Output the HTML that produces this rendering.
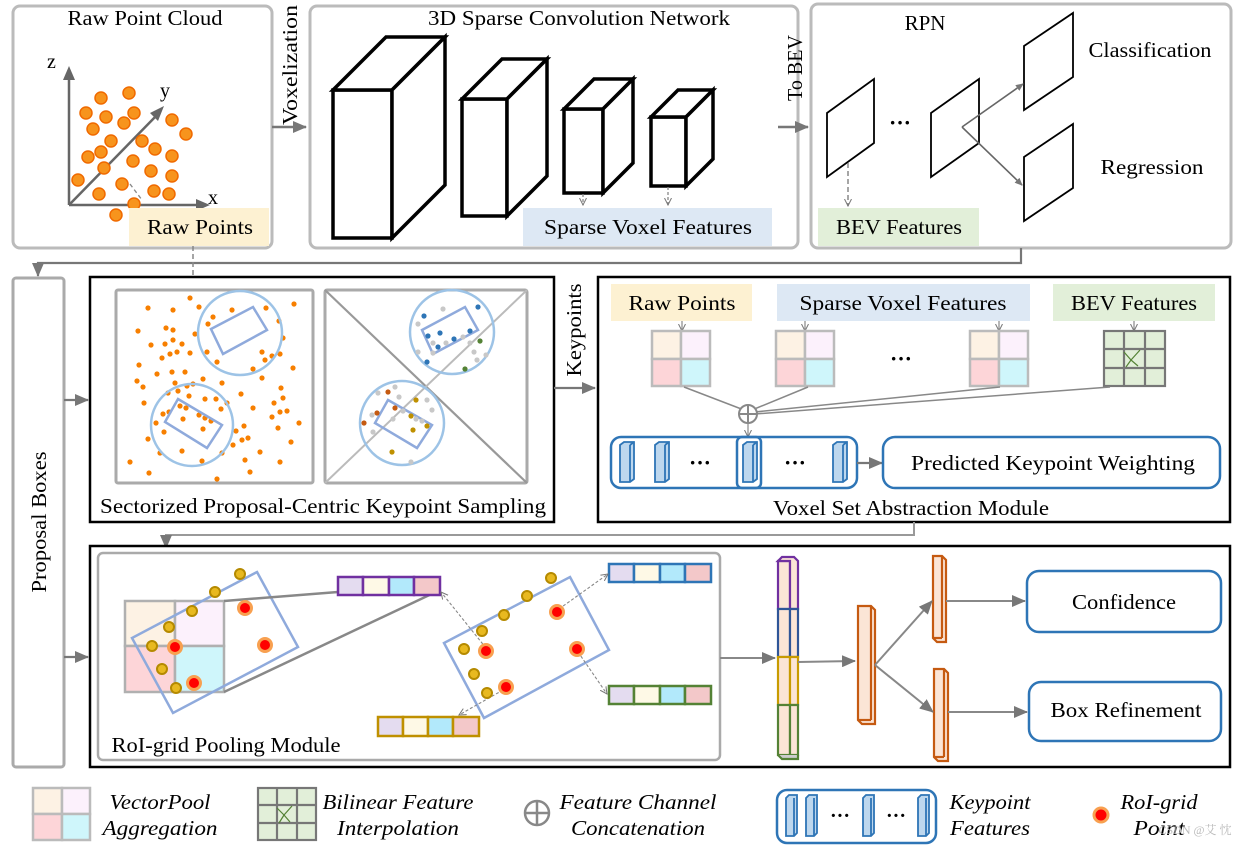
<!DOCTYPE html>
<html><head><meta charset="utf-8"><style>
html,body{margin:0;padding:0;background:#fff;}
svg{display:block;}
text{font-family:"Liberation Serif","Noto Serif CJK SC",serif;fill:#000;}
.it{font-style:italic;}
</style></head><body>
<svg width="1251" height="846" viewBox="0 0 1251 846" xmlns="http://www.w3.org/2000/svg">
<defs>
<marker id="ah" markerWidth="8" markerHeight="8" refX="7" refY="4" orient="auto" markerUnits="userSpaceOnUse"><path d="M0,0.5 L8,4 L0,7.5 Z" fill="#777"/></marker>
<marker id="ahb" markerWidth="14" markerHeight="12" refX="13" refY="6" orient="auto" markerUnits="userSpaceOnUse"><path d="M0,0 L14,6 L0,12 Z" fill="#777"/></marker>
<marker id="ahs" markerWidth="8" markerHeight="8" refX="7" refY="4" orient="auto" markerUnits="userSpaceOnUse"><path d="M0,0.5 L7,4 L0,7.5" fill="none" stroke="#777" stroke-width="1"/></marker>
</defs>

<!-- ===== Top row ===== -->
<rect x="13" y="6" width="259" height="242" rx="7" fill="#fff" stroke="#bbb" stroke-width="3"/>
<text x="145" y="25" font-size="21" text-anchor="middle" textLength="155" lengthAdjust="spacingAndGlyphs">Raw Point Cloud</text>
<!-- axes -->
<g stroke="#666" stroke-width="2.5" fill="none">
<line x1="69" y1="205" x2="69" y2="76"/>
<line x1="69" y1="205" x2="200" y2="205"/>
<line x1="69" y1="205" x2="158" y2="114"/>
</g>
<path d="M69,66 L63,80 L75,80Z" fill="#666"/>
<path d="M210,205 L196,199 L196,211Z" fill="#666"/>
<path d="M164,106 L150,113 L158,121Z" fill="#666"/>
<text x="47" y="68" font-size="20">z</text>
<text x="160" y="97" font-size="20">y</text>
<text x="208" y="204" font-size="20">x</text>
<g fill="#f7941d" stroke="#f06a00" stroke-width="1.5">
<circle cx="101" cy="98" r="6"/><circle cx="129" cy="93" r="6"/><circle cx="86" cy="113" r="6"/><circle cx="106" cy="117" r="6"/><circle cx="134" cy="113" r="6"/><circle cx="124" cy="123" r="6"/><circle cx="172" cy="120" r="6"/><circle cx="93" cy="129" r="6"/><circle cx="186" cy="134" r="6"/><circle cx="111" cy="141" r="6"/><circle cx="142" cy="141" r="6"/><circle cx="155" cy="149" r="6"/><circle cx="88" cy="157" r="6"/><circle cx="101" cy="152" r="6"/><circle cx="172" cy="156" r="6"/><circle cx="133" cy="161" r="6"/><circle cx="104" cy="168" r="6"/><circle cx="151" cy="171" r="6"/><circle cx="172" cy="176" r="6"/><circle cx="78" cy="180" r="6"/><circle cx="122" cy="184" r="6"/><circle cx="154" cy="191" r="6"/><circle cx="99" cy="194" r="6"/><circle cx="169" cy="194" r="6"/><circle cx="134" cy="204" r="6"/><circle cx="116" cy="215" r="6"/>
</g>
<line x1="130" y1="184" x2="142" y2="200" stroke="#888" stroke-width="1.3" stroke-dasharray="4,3"/>
<rect x="129" y="208" width="140" height="38" fill="#fdf1d2"/>
<text x="200" y="234" font-size="21" text-anchor="middle" textLength="106" lengthAdjust="spacingAndGlyphs">Raw Points</text>

<!-- voxelization arrow -->
<line x1="272" y1="127" x2="306" y2="127" stroke="#777" stroke-width="2.5" marker-end="url(#ahb)"/>
<text transform="translate(297,65) rotate(-90)" font-size="21" text-anchor="middle" textLength="120" lengthAdjust="spacingAndGlyphs">Voxelization</text>

<rect x="310" y="6" width="488" height="242" rx="7" fill="#fff" stroke="#bbb" stroke-width="3"/>
<text x="579" y="25" font-size="21" text-anchor="middle" textLength="302" lengthAdjust="spacingAndGlyphs">3D Sparse Convolution Network</text>
<g fill="#fff" stroke="#000" stroke-width="3.5" stroke-linejoin="miter">
<rect x="333" y="90" width="59" height="148"/>
<path d="M333,90 L386,37 L445,37 L392,90Z"/><path d="M392,90 L445,37 L445,185 L392,238Z"/>
<rect x="462" y="99" width="45" height="117"/>
<path d="M462,99 L502,59 L547,59 L507,99Z"/><path d="M507,99 L547,59 L547,176 L507,216Z"/>
<rect x="564" y="109" width="39" height="84"/>
<path d="M564,109 L594,79 L633,79 L603,109Z"/><path d="M603,109 L633,79 L633,163 L603,193Z"/>
<rect x="651" y="117" width="35" height="69"/>
<path d="M651,117 L678,90 L713,90 L686,117Z"/><path d="M686,117 L713,90 L713,159 L686,186Z"/>
</g>
<line x1="583" y1="194" x2="583" y2="205" stroke="#888" stroke-width="1.3" stroke-dasharray="3,2" marker-end="url(#ahs)"/>
<line x1="668" y1="187" x2="668" y2="205" stroke="#888" stroke-width="1.3" stroke-dasharray="3,2" marker-end="url(#ahs)"/>
<rect x="523" y="208" width="249" height="38" fill="#dde8f4"/>
<text x="648" y="234" font-size="21" text-anchor="middle" textLength="208" lengthAdjust="spacingAndGlyphs">Sparse Voxel Features</text>

<!-- to BEV -->
<line x1="778" y1="127" x2="808" y2="127" stroke="#777" stroke-width="2.5" marker-end="url(#ahb)"/>
<text transform="translate(802,68) rotate(-90)" font-size="21" text-anchor="middle" textLength="66" lengthAdjust="spacingAndGlyphs">To BEV</text>

<rect x="811" y="4" width="420" height="244" rx="7" fill="#fff" stroke="#bbb" stroke-width="3"/>
<text x="925" y="30" font-size="21" text-anchor="middle">RPN</text>
<g fill="#fff" stroke="#000" stroke-width="1.8">
<path d="M827,113 L874,79 L874,143 L827,177Z"/>
<path d="M931,113 L979,79 L979,143 L931,177Z"/>
<path d="M1024,46 L1073,13 L1073,77 L1024,110Z"/>
<path d="M1024,157 L1073,124 L1073,188 L1024,221Z"/>
</g>
<text x="900" y="130" font-size="22" text-anchor="middle" font-weight="bold">···</text>
<line x1="962" y1="127" x2="1023" y2="84" stroke="#666" stroke-width="1.6" marker-end="url(#ah)"/>
<line x1="962" y1="127" x2="1022" y2="185" stroke="#666" stroke-width="1.6" marker-end="url(#ah)"/>
<text x="1150" y="57" font-size="21" text-anchor="middle" textLength="123" lengthAdjust="spacingAndGlyphs">Classification</text>
<text x="1152" y="174" font-size="21" text-anchor="middle" textLength="103" lengthAdjust="spacingAndGlyphs">Regression</text>
<line x1="848" y1="163" x2="848" y2="206" stroke="#888" stroke-width="1.5" stroke-dasharray="5,3" marker-end="url(#ahs)"/>
<rect x="818" y="208" width="161" height="38" fill="#e2efd9"/>
<text x="899" y="234" font-size="21" text-anchor="middle" textLength="126" lengthAdjust="spacingAndGlyphs">BEV Features</text>

<!-- connector from RPN to proposal boxes -->
<polyline points="1021,248 1021,263 38,263 38,276" fill="none" stroke="#777" stroke-width="2.2" marker-end="url(#ahb)"/>
<line x1="193" y1="246" x2="193" y2="290" stroke="#888" stroke-width="1.5" stroke-dasharray="5,3" marker-end="url(#ahs)"/>

<!-- Proposal boxes -->
<rect x="13" y="278" width="51" height="489" rx="3" fill="#fff" stroke="#aaa" stroke-width="3"/>
<text transform="translate(46,522) rotate(-90)" font-size="21" text-anchor="middle" textLength="141" lengthAdjust="spacingAndGlyphs">Proposal Boxes</text>
<line x1="64" y1="400" x2="88" y2="400" stroke="#777" stroke-width="2.2" marker-end="url(#ahb)"/>
<line x1="64" y1="657" x2="88" y2="657" stroke="#777" stroke-width="2.2" marker-end="url(#ahb)"/>

<!-- Sampling box -->
<rect x="90" y="277" width="464" height="245" fill="#fff" stroke="#000" stroke-width="2.5"/>
<rect x="116" y="290" width="197" height="193" rx="2" fill="#fff" stroke="#aaa" stroke-width="3"/>
<rect x="325" y="290" width="202" height="193" rx="2" fill="#fff" stroke="#aaa" stroke-width="3"/>
<line x1="325" y1="290" x2="527" y2="483" stroke="#999" stroke-width="2.2"/>
<line x1="527" y1="290" x2="325" y2="483" stroke="#bbb" stroke-width="2"/>
<g fill="#f77f00">
<circle cx="190" cy="298" r="2.6"/><circle cx="148" cy="308" r="2.6"/><circle cx="173" cy="310" r="2.6"/><circle cx="199" cy="307" r="2.6"/><circle cx="232" cy="310" r="2.6"/><circle cx="266" cy="308" r="2.6"/><circle cx="294" cy="304" r="2.6"/><circle cx="138" cy="331" r="2.6"/><circle cx="166" cy="328" r="2.6"/><circle cx="173" cy="330" r="2.6"/><circle cx="213" cy="317" r="2.6"/><circle cx="208" cy="324" r="2.6"/><circle cx="279" cy="321" r="2.6"/><circle cx="283" cy="338" r="2.6"/><circle cx="151" cy="345" r="2.6"/><circle cx="165" cy="344" r="2.6"/><circle cx="173" cy="340" r="2.6"/><circle cx="182" cy="344" r="2.6"/><circle cx="195" cy="334" r="2.6"/><circle cx="170" cy="354" r="2.6"/><circle cx="177" cy="352" r="2.6"/><circle cx="190" cy="353" r="2.6"/><circle cx="162" cy="358" r="2.6"/><circle cx="207" cy="352" r="2.6"/><circle cx="217" cy="362" r="2.6"/><circle cx="262" cy="352" r="2.6"/><circle cx="272" cy="356" r="2.6"/><circle cx="280" cy="354" r="2.6"/><circle cx="265" cy="360" r="2.6"/><circle cx="139" cy="365" r="2.6"/><circle cx="253" cy="369" r="2.6"/><circle cx="293" cy="368" r="2.6"/><circle cx="157" cy="374" r="2.6"/><circle cx="172" cy="372" r="2.6"/><circle cx="185" cy="372" r="2.6"/><circle cx="203" cy="379" r="2.6"/><circle cx="262" cy="378" r="2.6"/><circle cx="137" cy="381" r="2.6"/><circle cx="143" cy="387" r="2.6"/><circle cx="175" cy="383" r="2.6"/><circle cx="187" cy="386" r="2.6"/><circle cx="193" cy="384" r="2.6"/><circle cx="222" cy="383" r="2.6"/><circle cx="281" cy="388" r="2.6"/><circle cx="168" cy="393" r="2.6"/><circle cx="178" cy="391" r="2.6"/><circle cx="189" cy="396" r="2.6"/><circle cx="241" cy="394" r="2.6"/><circle cx="205" cy="399" r="2.6"/><circle cx="216" cy="399" r="2.6"/><circle cx="227" cy="403" r="2.6"/><circle cx="144" cy="403" r="2.6"/><circle cx="274" cy="403" r="2.6"/><circle cx="283" cy="398" r="2.6"/><circle cx="180" cy="406" r="2.6"/><circle cx="186" cy="408" r="2.6"/><circle cx="221" cy="409" r="2.6"/><circle cx="253" cy="408" r="2.6"/><circle cx="280" cy="412" r="2.6"/><circle cx="287" cy="411" r="2.6"/><circle cx="272" cy="417" r="2.6"/><circle cx="163" cy="414" r="2.6"/><circle cx="169" cy="412" r="2.6"/><circle cx="199" cy="415" r="2.6"/><circle cx="205" cy="418" r="2.6"/><circle cx="211" cy="421" r="2.6"/><circle cx="183" cy="419" r="2.6"/><circle cx="299" cy="423" r="2.6"/><circle cx="156" cy="423" r="2.6"/><circle cx="244" cy="426" r="2.6"/><circle cx="278" cy="428" r="2.6"/><circle cx="164" cy="432" r="2.6"/><circle cx="203" cy="429" r="2.6"/><circle cx="236" cy="431" r="2.6"/><circle cx="242" cy="440" r="2.6"/><circle cx="248" cy="438" r="2.6"/><circle cx="148" cy="439" r="2.6"/><circle cx="291" cy="442" r="2.6"/><circle cx="233" cy="445" r="2.6"/><circle cx="160" cy="453" r="2.6"/><circle cx="182" cy="451" r="2.6"/><circle cx="260" cy="452" r="2.6"/><circle cx="222" cy="453" r="2.6"/><circle cx="202" cy="461" r="2.6"/><circle cx="245" cy="460" r="2.6"/><circle cx="280" cy="462" r="2.6"/><circle cx="130" cy="462" r="2.6"/><circle cx="149" cy="473" r="2.6"/><circle cx="250" cy="472" r="2.6"/><circle cx="217" cy="479" r="2.6"/>
</g>
<g fill="none" stroke="#9dc3e6" stroke-width="2.5">
<circle cx="240" cy="333" r="42"/><circle cx="192" cy="425" r="41"/>
<circle cx="452" cy="332" r="42"/><circle cx="402" cy="423" r="42"/>
</g>
<g fill="none" stroke="#8faadc" stroke-width="2.5">
<path d="M211,329 L253,307 L267,330 L223,354Z"/>
<path d="M178,399 L222,425 L207,448 L165,422Z"/>
<path d="M422,330 L465,307 L478,330 L433,354Z"/>
<path d="M388,400 L432,425 L417,448 L375,423Z"/>
</g>
<g fill="#c8c8c8">
<circle cx="443" cy="309" r="2.6"/><circle cx="418" cy="324" r="2.6"/><circle cx="433" cy="343" r="2.6"/><circle cx="446" cy="343" r="2.6"/><circle cx="463" cy="337" r="2.6"/><circle cx="470" cy="343" r="2.6"/><circle cx="433" cy="353" r="2.6"/><circle cx="418" cy="352" r="2.6"/><circle cx="474" cy="352" r="2.6"/><circle cx="477" cy="360" r="2.6"/><circle cx="486" cy="355" r="2.6"/><circle cx="395" cy="387" r="2.6"/><circle cx="399" cy="397" r="2.6"/><circle cx="427" cy="400" r="2.6"/><circle cx="378" cy="393" r="2.6"/><circle cx="372" cy="415" r="2.6"/><circle cx="403" cy="411" r="2.6"/><circle cx="432" cy="410" r="2.6"/><circle cx="416" cy="419" r="2.6"/><circle cx="422" cy="421" r="2.6"/><circle cx="373" cy="432" r="2.6"/><circle cx="393" cy="419" r="2.6"/><circle cx="411" cy="462" r="2.6"/>
</g>
<g fill="#2e75b6"><circle cx="478" cy="307" r="2.6"/><circle cx="424" cy="316" r="2.6"/><circle cx="428" cy="336" r="2.6"/><circle cx="440" cy="333" r="2.6"/><circle cx="454" cy="339" r="2.6"/><circle cx="470" cy="331" r="2.6"/><circle cx="438" cy="347" r="2.6"/><circle cx="427" cy="362" r="2.6"/></g>
<g fill="#548235"><circle cx="480" cy="341" r="2.6"/><circle cx="465" cy="369" r="2.6"/></g>
<g fill="#c55a11"><circle cx="388" cy="392" r="2.6"/><circle cx="377" cy="413" r="2.6"/><circle cx="395" cy="408" r="2.6"/><circle cx="364" cy="423" r="2.6"/></g>
<g fill="#bf9000"><circle cx="416" cy="400" r="2.6"/><circle cx="411" cy="416" r="2.6"/><circle cx="413" cy="430" r="2.6"/><circle cx="392" cy="452" r="2.6"/><circle cx="427" cy="426" r="2.6"/></g>
<text x="323" y="513" font-size="21" text-anchor="middle" textLength="446" lengthAdjust="spacingAndGlyphs">Sectorized Proposal-Centric Keypoint Sampling</text>

<!-- keypoints arrow -->
<line x1="554" y1="388" x2="595" y2="388" stroke="#777" stroke-width="2.2" marker-end="url(#ahb)"/>
<text transform="translate(581,330) rotate(-90)" font-size="21" text-anchor="middle" textLength="93" lengthAdjust="spacingAndGlyphs">Keypoints</text>

<!-- VSA box -->
<rect x="598" y="277" width="632" height="245" fill="#fff" stroke="#000" stroke-width="2.5"/>
<rect x="611" y="284" width="141" height="37" fill="#fdf1d2"/>
<text x="682" y="310" font-size="21" text-anchor="middle" textLength="107" lengthAdjust="spacingAndGlyphs">Raw Points</text>
<rect x="777" y="284" width="253" height="37" fill="#dde8f4"/>
<text x="903" y="310" font-size="21" text-anchor="middle" textLength="207" lengthAdjust="spacingAndGlyphs">Sparse Voxel Features</text>
<rect x="1053" y="284" width="162" height="37" fill="#e2efd9"/>
<text x="1134" y="310" font-size="21" text-anchor="middle" textLength="126" lengthAdjust="spacingAndGlyphs">BEV Features</text>
<g stroke="#888" stroke-width="1.2" fill="none">
<line x1="682" y1="321" x2="682" y2="331" marker-end="url(#ahs)"/>
<line x1="805" y1="321" x2="805" y2="331" marker-end="url(#ahs)"/>
<line x1="999" y1="321" x2="999" y2="331" marker-end="url(#ahs)"/>
<line x1="1134" y1="321" x2="1134" y2="331" marker-end="url(#ahs)"/>
</g>
<!-- vectorpool grids -->
<g stroke="#bbb" stroke-width="2.5">
<rect x="652" y="331" width="29" height="28" fill="#fdf2e4"/><rect x="681" y="331" width="29" height="28" fill="#fcf1fc"/><rect x="652" y="359" width="29" height="27" fill="#fdd5d8"/><rect x="681" y="359" width="29" height="27" fill="#cff6fb"/>
<rect x="776" y="331" width="29" height="28" fill="#fdf2e4"/><rect x="805" y="331" width="29" height="28" fill="#fcf1fc"/><rect x="776" y="359" width="29" height="27" fill="#fdd5d8"/><rect x="805" y="359" width="29" height="27" fill="#cff6fb"/>
<rect x="970" y="331" width="29" height="28" fill="#fdf2e4"/><rect x="999" y="331" width="29" height="28" fill="#fcf1fc"/><rect x="970" y="359" width="29" height="27" fill="#fdd5d8"/><rect x="999" y="359" width="29" height="27" fill="#cff6fb"/>
</g>
<text x="901" y="366" font-size="22" text-anchor="middle" font-weight="bold">···</text>
<g stroke="#777" stroke-width="2.2" fill="#e2efd9">
<rect x="1104" y="331" width="61" height="55"/>
<line x1="1124" y1="331" x2="1124" y2="386"/><line x1="1145" y1="331" x2="1145" y2="386"/>
<line x1="1104" y1="349" x2="1165" y2="349"/><line x1="1104" y1="368" x2="1165" y2="368"/>
</g>
<g stroke="#548235" stroke-width="1.2"><line x1="1140" y1="350" x2="1131" y2="360"/><line x1="1124" y1="352" x2="1131" y2="360"/><line x1="1138" y1="366" x2="1131" y2="360"/><line x1="1126" y1="367" x2="1131" y2="360"/></g>
<g stroke="#888" stroke-width="1.5">
<line x1="684" y1="387" x2="744" y2="410"/><line x1="808" y1="387" x2="752" y2="410"/>
<line x1="1000" y1="387" x2="755" y2="412"/><line x1="1110" y1="387" x2="755" y2="414"/>
</g>
<circle cx="748" cy="414" r="9" fill="#fff" stroke="#888" stroke-width="2"/>
<line x1="739" y1="414" x2="757" y2="414" stroke="#888" stroke-width="2"/><line x1="748" y1="405" x2="748" y2="423" stroke="#888" stroke-width="2"/>
<line x1="748" y1="423" x2="748" y2="437" stroke="#888" stroke-width="1.2" marker-end="url(#ahs)"/>
<rect x="611" y="437" width="246" height="51" rx="10" fill="#fff" stroke="#2e75b6" stroke-width="2.5"/>
<g fill="#bdd7ee" stroke="#2e75b6" stroke-width="1.8">
<path d="M620,445 L624,442 L634,442 L634,479 L630,482 L620,482Z"/><line x1="630" y1="445" x2="630" y2="482"/><line x1="630" y1="445" x2="634" y2="442"/>
<path d="M655,445 L659,442 L669,442 L669,479 L665,482 L655,482Z"/><line x1="665" y1="445" x2="665" y2="482"/><line x1="665" y1="445" x2="669" y2="442"/>
<path d="M743,445 L747,442 L757,442 L757,479 L753,482 L743,482Z"/><line x1="753" y1="445" x2="753" y2="482"/><line x1="753" y1="445" x2="757" y2="442"/>
<path d="M833,445 L837,442 L847,442 L847,479 L843,482 L833,482Z"/><line x1="843" y1="445" x2="843" y2="482"/><line x1="843" y1="445" x2="847" y2="442"/>
</g>
<rect x="737" y="437" width="24" height="51" rx="5" fill="none" stroke="#2e75b6" stroke-width="2.5"/>
<text x="700" y="470" font-size="22" text-anchor="middle" font-weight="bold">···</text>
<text x="795" y="470" font-size="22" text-anchor="middle" font-weight="bold">···</text>
<line x1="857" y1="463" x2="882" y2="463" stroke="#777" stroke-width="2.2" marker-end="url(#ahb)"/>
<rect x="883" y="437" width="337" height="51" rx="12" fill="#fff" stroke="#2e75b6" stroke-width="2.5"/>
<text x="1053" y="470" font-size="21" text-anchor="middle" textLength="284" lengthAdjust="spacingAndGlyphs">Predicted Keypoint Weighting</text>
<text x="911" y="515" font-size="21" text-anchor="middle" textLength="276" lengthAdjust="spacingAndGlyphs">Voxel Set Abstraction Module</text>

<polyline points="914,522 914,535 166,535 166,548" fill="none" stroke="#999" stroke-width="2" marker-end="url(#ahb)"/>

<!-- RoI box -->
<rect x="90" y="546" width="1140" height="221" fill="#fff" stroke="#000" stroke-width="2.5"/>
<rect x="98" y="553" width="622" height="207" rx="5" fill="#fff" stroke="#aaa" stroke-width="2.5"/>
<g stroke="#b0b0b0" stroke-width="2.5">
<rect x="125" y="601" width="50" height="45" fill="#fdf2e4"/><rect x="175" y="601" width="49" height="45" fill="#fcf1fc"/>
<rect x="125" y="646" width="50" height="46" fill="#fdd5d8"/><rect x="175" y="646" width="49" height="46" fill="#cff6fb"/>
</g>
<path d="M257,572 L298,647 L173,713 L132,638Z" fill="none" stroke="#8faadc" stroke-width="2.5"/>
<line x1="224" y1="601" x2="338" y2="592" stroke="#888" stroke-width="2.5"/>
<line x1="224" y1="692" x2="440" y2="590" stroke="#888" stroke-width="2.5"/>
<path d="M570,577 L609,650 L484,718 L444,643Z" fill="none" stroke="#8faadc" stroke-width="2.5"/>
<g stroke-width="2">
<g fill="#7030a0" stroke="#7030a0"></g>
</g>
<!-- feature bars -->
<g stroke-width="2.5">
<g stroke="#7030a0"><rect x="338" y="577" width="25" height="18" fill="#e4dcf0"/><rect x="363" y="577" width="26" height="18" fill="#fef9e6"/><rect x="389" y="577" width="25" height="18" fill="#b2e9fb"/><rect x="414" y="577" width="26" height="18" fill="#f3c8c9"/></g>
<g stroke="#2e75b6"><rect x="609" y="564" width="25" height="18" fill="#e4dcf0"/><rect x="634" y="564" width="26" height="18" fill="#fef9e6"/><rect x="660" y="564" width="25" height="18" fill="#b2e9fb"/><rect x="685" y="564" width="26" height="18" fill="#f3c8c9"/></g>
<g stroke="#548235"><rect x="609" y="686" width="25" height="18" fill="#e4dcf0"/><rect x="634" y="686" width="26" height="18" fill="#fef9e6"/><rect x="660" y="686" width="25" height="18" fill="#b2e9fb"/><rect x="685" y="686" width="26" height="18" fill="#f3c8c9"/></g>
<g stroke="#bf9000"><rect x="378" y="717" width="25" height="19" fill="#e4dcf0"/><rect x="403" y="717" width="25" height="19" fill="#fef9e6"/><rect x="428" y="717" width="25" height="19" fill="#b2e9fb"/><rect x="453" y="717" width="26" height="19" fill="#f3c8c9"/></g>
</g>
<g stroke="#888" stroke-width="1.1" stroke-dasharray="3,2" fill="none">
<line x1="486" y1="648" x2="441" y2="592" marker-end="url(#ahs)"/>
<line x1="559" y1="609" x2="608" y2="574" marker-end="url(#ahs)"/>
<line x1="578" y1="652" x2="607" y2="694" marker-end="url(#ahs)"/>
<line x1="503" y1="690" x2="459" y2="715" marker-end="url(#ahs)"/>
</g>
<g fill="#e8b920" stroke="#b58a00" stroke-width="2">
<circle cx="240" cy="574" r="5"/><circle cx="215" cy="592" r="5"/><circle cx="192" cy="611" r="5"/><circle cx="169" cy="627" r="5"/><circle cx="152" cy="646" r="5"/><circle cx="162" cy="669" r="5"/><circle cx="176" cy="688" r="5"/>
<circle cx="551" cy="578" r="5"/><circle cx="527" cy="596" r="5"/><circle cx="504" cy="615" r="5"/><circle cx="482" cy="631" r="5"/><circle cx="464" cy="649" r="5"/><circle cx="474" cy="674" r="5"/><circle cx="487" cy="693" r="5"/>
</g>
<g fill="#ff0000" stroke="#f8a050" stroke-width="3">
<circle cx="245" cy="608" r="6.5"/><circle cx="265" cy="645" r="6.5"/><circle cx="175" cy="647" r="6.5"/><circle cx="194" cy="683" r="6.5"/>
<circle cx="557" cy="612" r="6.5"/><circle cx="486" cy="651" r="6.5"/><circle cx="577" cy="649" r="6.5"/><circle cx="506" cy="687" r="6.5"/>
</g>
<text x="226" y="752" font-size="21" text-anchor="middle" textLength="229" lengthAdjust="spacingAndGlyphs">RoI-grid Pooling Module</text>

<line x1="720" y1="658" x2="775" y2="658" stroke="#888" stroke-width="2" marker-end="url(#ahb)"/>
<!-- concat bar -->
<g fill="#fbe5d6" stroke-width="2.2">
<g stroke="#7030a0"><rect x="778" y="561" width="12" height="48"/><path d="M778,561 L782,557 L794,557 L798,561 L798,609 L790,609 L790,561Z" fill="#fbe5d6"/></g>
<g stroke="#2f5597"><rect x="778" y="609" width="12" height="48"/><path d="M790,609 L798,609 L798,657 L790,657Z"/></g>
<g stroke="#c89b00"><rect x="778" y="657" width="12" height="48"/><path d="M790,657 L798,657 L798,705 L790,705Z"/></g>
<g stroke="#548235"><rect x="778" y="705" width="12" height="50"/><path d="M790,705 L798,705 L798,755 L790,755Z"/><path d="M778,755 L782,759 L798,759 L798,755" fill="#ccc"/></g>
</g>
<line x1="798" y1="662" x2="855" y2="661" stroke="#888" stroke-width="2" marker-end="url(#ahb)"/>
<g fill="#fbe5d6" stroke="#c55a11" stroke-width="2.2">
<path d="M858,606 L871,606 L875,610 L875,724 L862,724 L858,720Z"/><line x1="871" y1="606" x2="871" y2="720"/><line x1="858" y1="720" x2="871" y2="720"/>
<path d="M933,556 L942,556 L946,560 L946,642 L937,642 L933,638Z"/><line x1="942" y1="556" x2="942" y2="638"/><line x1="933" y1="638" x2="942" y2="638"/>
<path d="M934,669 L944,669 L948,673 L948,761 L938,761 L934,757Z"/><line x1="944" y1="669" x2="944" y2="757"/><line x1="934" y1="757" x2="944" y2="757"/>
</g>
<line x1="875" y1="665" x2="932" y2="601" stroke="#888" stroke-width="2" marker-end="url(#ahb)"/>
<line x1="875" y1="665" x2="933" y2="712" stroke="#888" stroke-width="2" marker-end="url(#ahb)"/>
<line x1="946" y1="601" x2="1025" y2="601" stroke="#888" stroke-width="2" marker-end="url(#ahb)"/>
<line x1="948" y1="712" x2="1027" y2="712" stroke="#888" stroke-width="2" marker-end="url(#ahb)"/>
<rect x="1027" y="571" width="194" height="61" rx="12" fill="#fff" stroke="#2e75b6" stroke-width="2.5"/>
<text x="1124" y="609" font-size="21" text-anchor="middle" textLength="104" lengthAdjust="spacingAndGlyphs">Confidence</text>
<rect x="1029" y="682" width="192" height="59" rx="12" fill="#fff" stroke="#2e75b6" stroke-width="2.5"/>
<text x="1126" y="717" font-size="21" text-anchor="middle" textLength="151" lengthAdjust="spacingAndGlyphs">Box Refinement</text>

<!-- ===== Legend ===== -->
<g stroke="#bbb" stroke-width="2.5">
<rect x="33" y="788" width="29" height="26" fill="#fdf2e4"/><rect x="62" y="788" width="28" height="26" fill="#fcf1fc"/>
<rect x="33" y="814" width="29" height="26" fill="#fdd5d8"/><rect x="62" y="814" width="28" height="26" fill="#cff6fb"/>
</g>
<text class="it" x="160" y="809" font-size="21" text-anchor="middle" textLength="101" lengthAdjust="spacingAndGlyphs">VectorPool</text>
<text class="it" x="160" y="835" font-size="21" text-anchor="middle" textLength="115" lengthAdjust="spacingAndGlyphs">Aggregation</text>
<g stroke="#777" stroke-width="2.2" fill="#e2efd9">
<rect x="258" y="788" width="58" height="52"/>
<line x1="277" y1="788" x2="277" y2="840"/><line x1="297" y1="788" x2="297" y2="840"/>
<line x1="258" y1="805" x2="316" y2="805"/><line x1="258" y1="823" x2="316" y2="823"/>
</g>
<g stroke="#548235" stroke-width="1.2"><line x1="292" y1="806" x2="284" y2="815"/><line x1="277" y1="808" x2="284" y2="815"/><line x1="290" y1="822" x2="284" y2="815"/><line x1="279" y1="823" x2="284" y2="815"/></g>
<text class="it" x="398" y="809" font-size="21" text-anchor="middle" textLength="151" lengthAdjust="spacingAndGlyphs">Bilinear Feature</text>
<text class="it" x="398" y="835" font-size="21" text-anchor="middle" textLength="122" lengthAdjust="spacingAndGlyphs">Interpolation</text>
<circle cx="537" cy="813" r="12" fill="#fff" stroke="#888" stroke-width="2.5"/>
<line x1="525" y1="813" x2="549" y2="813" stroke="#888" stroke-width="2.5"/><line x1="537" y1="801" x2="537" y2="825" stroke="#888" stroke-width="2.5"/>
<text class="it" x="638" y="809" font-size="21" text-anchor="middle" textLength="157" lengthAdjust="spacingAndGlyphs">Feature  Channel</text>
<text class="it" x="638" y="835" font-size="21" text-anchor="middle" textLength="134" lengthAdjust="spacingAndGlyphs">Concatenation</text>
<rect x="777" y="790" width="159" height="53" rx="10" fill="#fff" stroke="#2e75b6" stroke-width="2.5"/>
<g fill="#bdd7ee" stroke="#2e75b6" stroke-width="1.8">
<path d="M786,798 L789,795 L797,795 L797,833 L794,836 L786,836Z"/><line x1="794" y1="798" x2="794" y2="836"/>
<path d="M806,798 L809,795 L817,795 L817,833 L814,836 L806,836Z"/><line x1="814" y1="798" x2="814" y2="836"/>
<path d="M863,798 L866,795 L874,795 L874,833 L871,836 L863,836Z"/><line x1="871" y1="798" x2="871" y2="836"/>
<path d="M918,798 L921,795 L929,795 L929,833 L926,836 L918,836Z"/><line x1="926" y1="798" x2="926" y2="836"/>
</g>
<text x="840" y="822" font-size="20" text-anchor="middle" font-weight="bold">···</text>
<text x="896" y="822" font-size="20" text-anchor="middle" font-weight="bold">···</text>
<text class="it" x="990" y="809" font-size="21" text-anchor="middle" textLength="81" lengthAdjust="spacingAndGlyphs">Keypoint</text>
<text class="it" x="990" y="835" font-size="21" text-anchor="middle" textLength="80" lengthAdjust="spacingAndGlyphs">Features</text>
<circle cx="1101" cy="815" r="7" fill="#ff0000" stroke="#f8a050" stroke-width="3"/>
<text class="it" x="1159" y="809" font-size="21" text-anchor="middle" textLength="77" lengthAdjust="spacingAndGlyphs">RoI-grid</text>
<text class="it" x="1159" y="835" font-size="21" text-anchor="middle" textLength="51" lengthAdjust="spacingAndGlyphs">Point</text>
<text x="1195" y="834" font-size="12" text-anchor="middle" fill="#bbb" style="fill:#bbb">CSDN @艾 忱</text>
</svg>
</body></html>
